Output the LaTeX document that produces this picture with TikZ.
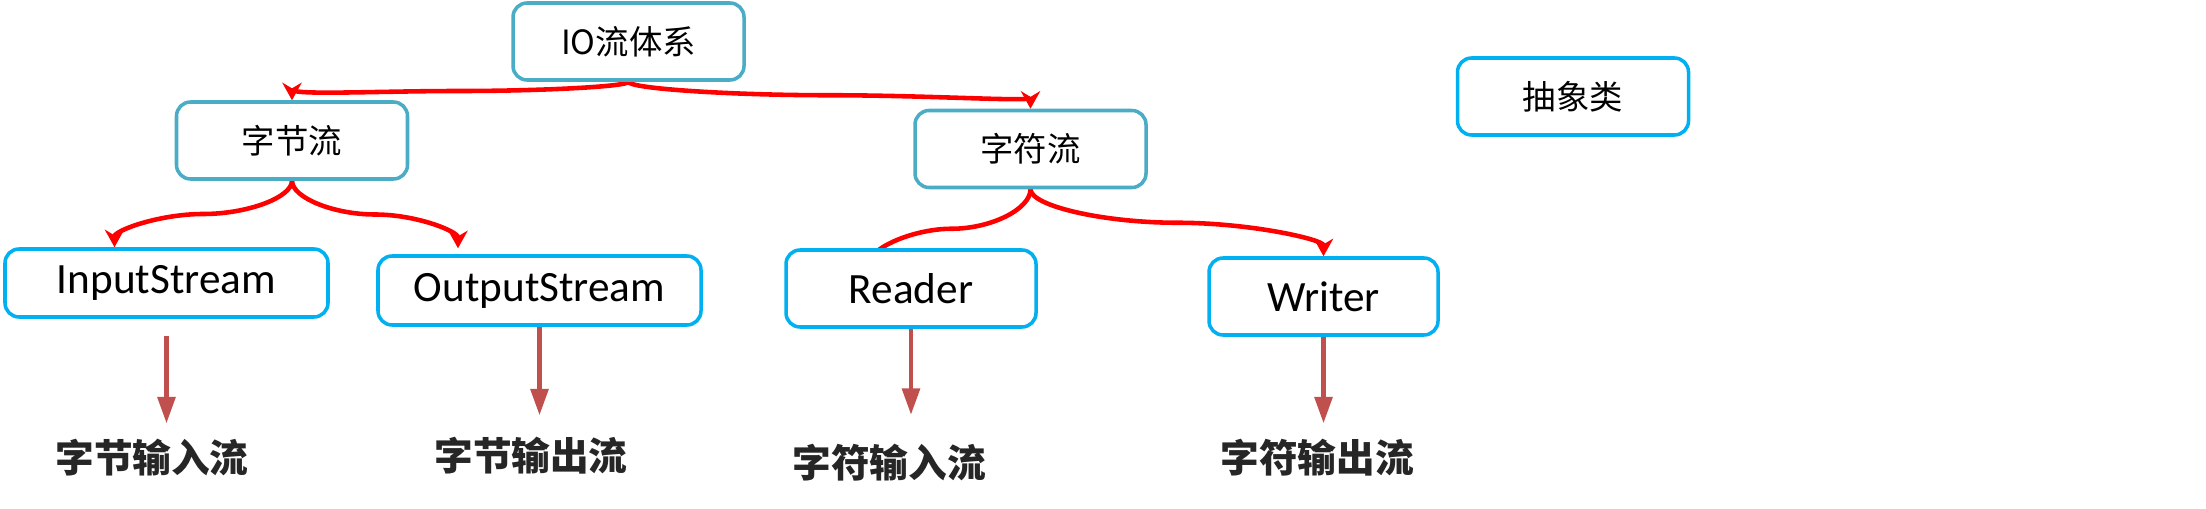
\documentclass[tikz,border=0pt]{standalone}
\usepackage{fontspec}
\setmainfont{Noto Sans CJK SC}
\newfontfamily\latinfont{Carlito}
\usepackage{xcolor}
\usetikzlibrary{arrows.meta,calc,backgrounds}

\definecolor{boxaqua}{HTML}{4BACC6}
\definecolor{boxblue}{HTML}{00B0F0}
\definecolor{linkred}{HTML}{FF0000}
\definecolor{downred}{HTML}{C0504D}
\definecolor{labelgray}{HTML}{262626}

\begin{document}
\begin{tikzpicture}[
  box/.style={draw, rounded corners=4pt, line width=1pt, fill=white, inner sep=0pt},
  upper/.style={box, draw=boxaqua, minimum width=2.31cm, minimum height=0.77cm, font=\fontsize{9.5}{11}\selectfont},
  lower/.style={box, draw=boxblue, minimum height=0.77cm, font=\latinfont\fontsize{12.3}{14}\selectfont},
  link/.style={draw=linkred, line width=1.3pt, -{Stealth[length=5pt,width=5.5pt]},
    to path={let \p1=(\tikztostart), \p2=(\tikztotarget) in
      .. controls (\x1,{(3*\y1+\y2)/4}) and ({(3*\x1+\x2)/4},{(\y1+\y2)/2})
      .. ({(\x1+\x2)/2},{(\y1+\y2)/2})
      .. controls ({(\x1+3*\x2)/4},{(\y1+\y2)/2}) and (\x2,{(\y1+3*\y2)/4})
      .. (\x2,\y2)}},
  flowdown/.style={draw=downred, line width=1.2pt, -{Triangle[length=7.5pt,width=5pt]}},
  streamlabel/.style={inner sep=0pt, text=labelgray, font=\fontsize{11}{12}\selectfont\bfseries}
]
\useasboundingbox (0,0) rectangle (22.06,5.08);

% top levels
\node[upper] (io) at (6.285,4.665) {IO流体系};
\node[upper] (byte) at (2.92,3.675) {字节流};
\node[upper] (char) at (10.305,3.59) {字符流};
\node[upper, draw=boxblue] (abstract) at (15.73,4.115) {抽象类};

% abstract classes
\node[lower, minimum width=3.23cm, minimum height=0.68cm] (in) at (1.665,2.25) {InputStream};
\node[lower, minimum width=3.23cm, minimum height=0.69cm] (out) at (5.395,2.175) {OutputStream};
\node[lower, minimum width=2.50cm] (reader) at (9.11,2.195) {Reader};
\node[lower, minimum width=2.29cm] (writer) at (13.235,2.115) {Writer};

\node[streamlabel] (lin) at (1.52,0.505) {字节输入流};
\node[streamlabel] (lout) at (5.31,0.525) {字节输出流};
\node[streamlabel] (lreader) at (8.89,0.45) {字符输入流};
\node[streamlabel] (lwriter) at (13.17,0.505) {字符输出流};

\begin{scope}[on background layer]
\draw[link] (io.south) to (byte.north);
\draw[link] (io.south) to (char.north);
\draw[link] (byte.south) to ([xshift=-0.52cm]in.north);
\draw[link] (byte.south) to ([xshift=-0.815cm,yshift=0.06cm]out.north);
\draw[link] (char.south) to ([xshift=-0.38cm,yshift=-0.2cm]reader.north);
\draw[link] (char.south) to (writer.north);
\end{scope}

\draw[flowdown] ([yshift=-0.17cm]in.south) -- ([yshift=0.15cm]lin.north -| in.south);
\draw[flowdown] (out.south) -- ([yshift=0.21cm]lout.north -| out.south);
\draw[flowdown] (reader.south) -- ([yshift=0.29cm]lreader.north -| reader.south);
\draw[flowdown] (writer.south) -- ([yshift=0.15cm]lwriter.north -| writer.south);
\end{tikzpicture}
\end{document}
